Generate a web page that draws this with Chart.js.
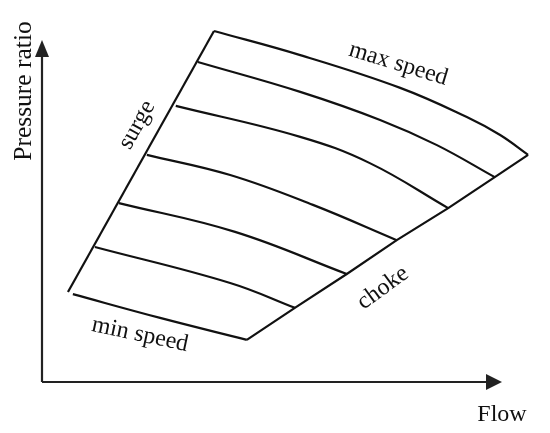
<!DOCTYPE html>
<html>
<head>
<meta charset="utf-8">
<script src="https://cdn.jsdelivr.net/npm/chart.js@4/dist/chart.umd.min.js"></script>
<style>
  html, body { margin: 0; padding: 0; background: #fff; }
  #wrap { width: 550px; height: 433px; position: relative; }
</style>
</head>
<body>
<div id="wrap"><canvas id="mapCanvas"></canvas></div>
<script>
// speed lines, low to high (flow, pressure ratio) in arbitrary units
const minSpeed = [[6.3, 24.4], [24.1, 17.8], [41.8, 11.7]];
const speed2 = [[10.8, 37.5], [38.4, 27.5], [51.6, 20.6]];
const speed3 = [[15.7, 49.7], [39.4, 41.7], [62.2, 30.0]];
const speed4 = [[21.4, 63.1], [38.4, 57.5], [55.3, 49.2], [72.4, 39.4]];
const speed5 = [[27.3, 76.7], [52.7, 68.1], [66.9, 60.8], [82.9, 48.3]];
const speed6 = [[31.8, 88.9], [52.7, 80.6], [69.0, 72.8], [80.6, 65.8], [92.4, 56.9]];
const maxSpeed = [[35.1, 97.5], [52.7, 90.8], [73.1, 81.7], [86.7, 73.6], [93.5, 68.6], [99.2, 63.1]];
const surgeLine = [[5.3, 25.0], [35.1, 97.5]];
const chokeLine = [[41.8, 11.7], [51.6, 20.6], [62.2, 30.0], [72.4, 39.4], [82.9, 48.3], [92.4, 56.9], [99.2, 63.1]];

const speedLines = [minSpeed, speed2, speed3, speed4, speed5, speed6, maxSpeed];

// text along the map: label, anchor (data units), angle in degrees
const notes = [
  { text: 'max speed', x: 72.7, y: 88.3, angle: 17 },
  { text: 'surge', x: 19.4, y: 71.4, angle: -61 },
  { text: 'choke', x: 69.6, y: 26.1, angle: -36 },
  { text: 'min speed', x: 20.0, y: 13.1, angle: 12 },
];

const FONT = '24px "Liberation Serif", "Times New Roman", serif';
const INK = '#111';

const toXY = (pts) => pts.map(([x, y]) => ({ x, y }));

const datasets = speedLines.map((pts) => ({
  data: toXY(pts),
  showLine: true,
  borderColor: INK,
  borderWidth: 2.2,
  pointRadius: 0,
  tension: 0.4,
  fill: false,
}));
[surgeLine, chokeLine].forEach((pts) => datasets.push({
  data: toXY(pts),
  showLine: true,
  borderColor: INK,
  borderWidth: 2.2,
  pointRadius: 0,
  tension: 0,
  fill: false,
}));

const axesArrows = {
  id: 'axesArrows',
  beforeDatasetsDraw(chart) {
    const { ctx, chartArea: a } = chart;
    const yTip = a.top + 18;
    const xTip = a.right - 30;
    ctx.save();
    ctx.strokeStyle = '#222';
    ctx.fillStyle = '#222';
    ctx.lineWidth = 2.2;
    ctx.beginPath();
    ctx.moveTo(a.left, a.bottom);
    ctx.lineTo(a.left, yTip + 10);
    ctx.moveTo(a.left, a.bottom);
    ctx.lineTo(xTip - 10, a.bottom);
    ctx.stroke();
    ctx.beginPath();
    ctx.moveTo(a.left, yTip);
    ctx.lineTo(a.left - 7, yTip + 17);
    ctx.lineTo(a.left + 7, yTip + 17);
    ctx.closePath();
    ctx.fill();
    ctx.beginPath();
    ctx.moveTo(xTip, a.bottom);
    ctx.lineTo(xTip - 16, a.bottom - 8);
    ctx.lineTo(xTip - 16, a.bottom + 8);
    ctx.closePath();
    ctx.fill();

    ctx.font = FONT;
    ctx.fillStyle = INK;
    ctx.textAlign = 'center';
    ctx.textBaseline = 'alphabetic';
    ctx.fillText('Flow', xTip, a.bottom + 39);
    ctx.font = FONT.replace('24px', '25.5px');
    ctx.translate(a.left - 11, a.top + 69);
    ctx.rotate(-Math.PI / 2);
    ctx.fillText('Pressure ratio', 0, 0);
    ctx.restore();
  }
};

const mapNotes = {
  id: 'mapNotes',
  afterDatasetsDraw(chart) {
    const { ctx, scales: { x, y } } = chart;
    ctx.save();
    ctx.font = FONT;
    ctx.fillStyle = INK;
    ctx.textAlign = 'center';
    ctx.textBaseline = 'middle';
    notes.forEach((n) => {
      ctx.save();
      ctx.translate(x.getPixelForValue(n.x), y.getPixelForValue(n.y));
      ctx.rotate(n.angle * Math.PI / 180);
      ctx.fillText(n.text, 0, 0);
      ctx.restore();
    });
    ctx.restore();
  }
};

new Chart(document.getElementById('mapCanvas'), {
  type: 'scatter',
  data: { datasets },
  options: {
    responsive: true,
    maintainAspectRatio: false,
    animation: false,
    layout: { padding: { left: 42, right: 18, top: 22, bottom: 51 } },
    plugins: {
      legend: { display: false },
      tooltip: { enabled: false },
    },
    scales: {
      x: { type: 'linear', min: 0, max: 100, display: false },
      y: { type: 'linear', min: 0, max: 100, display: false },
    },
  },
  plugins: [axesArrows, mapNotes],
});
</script>
</body>
</html>
